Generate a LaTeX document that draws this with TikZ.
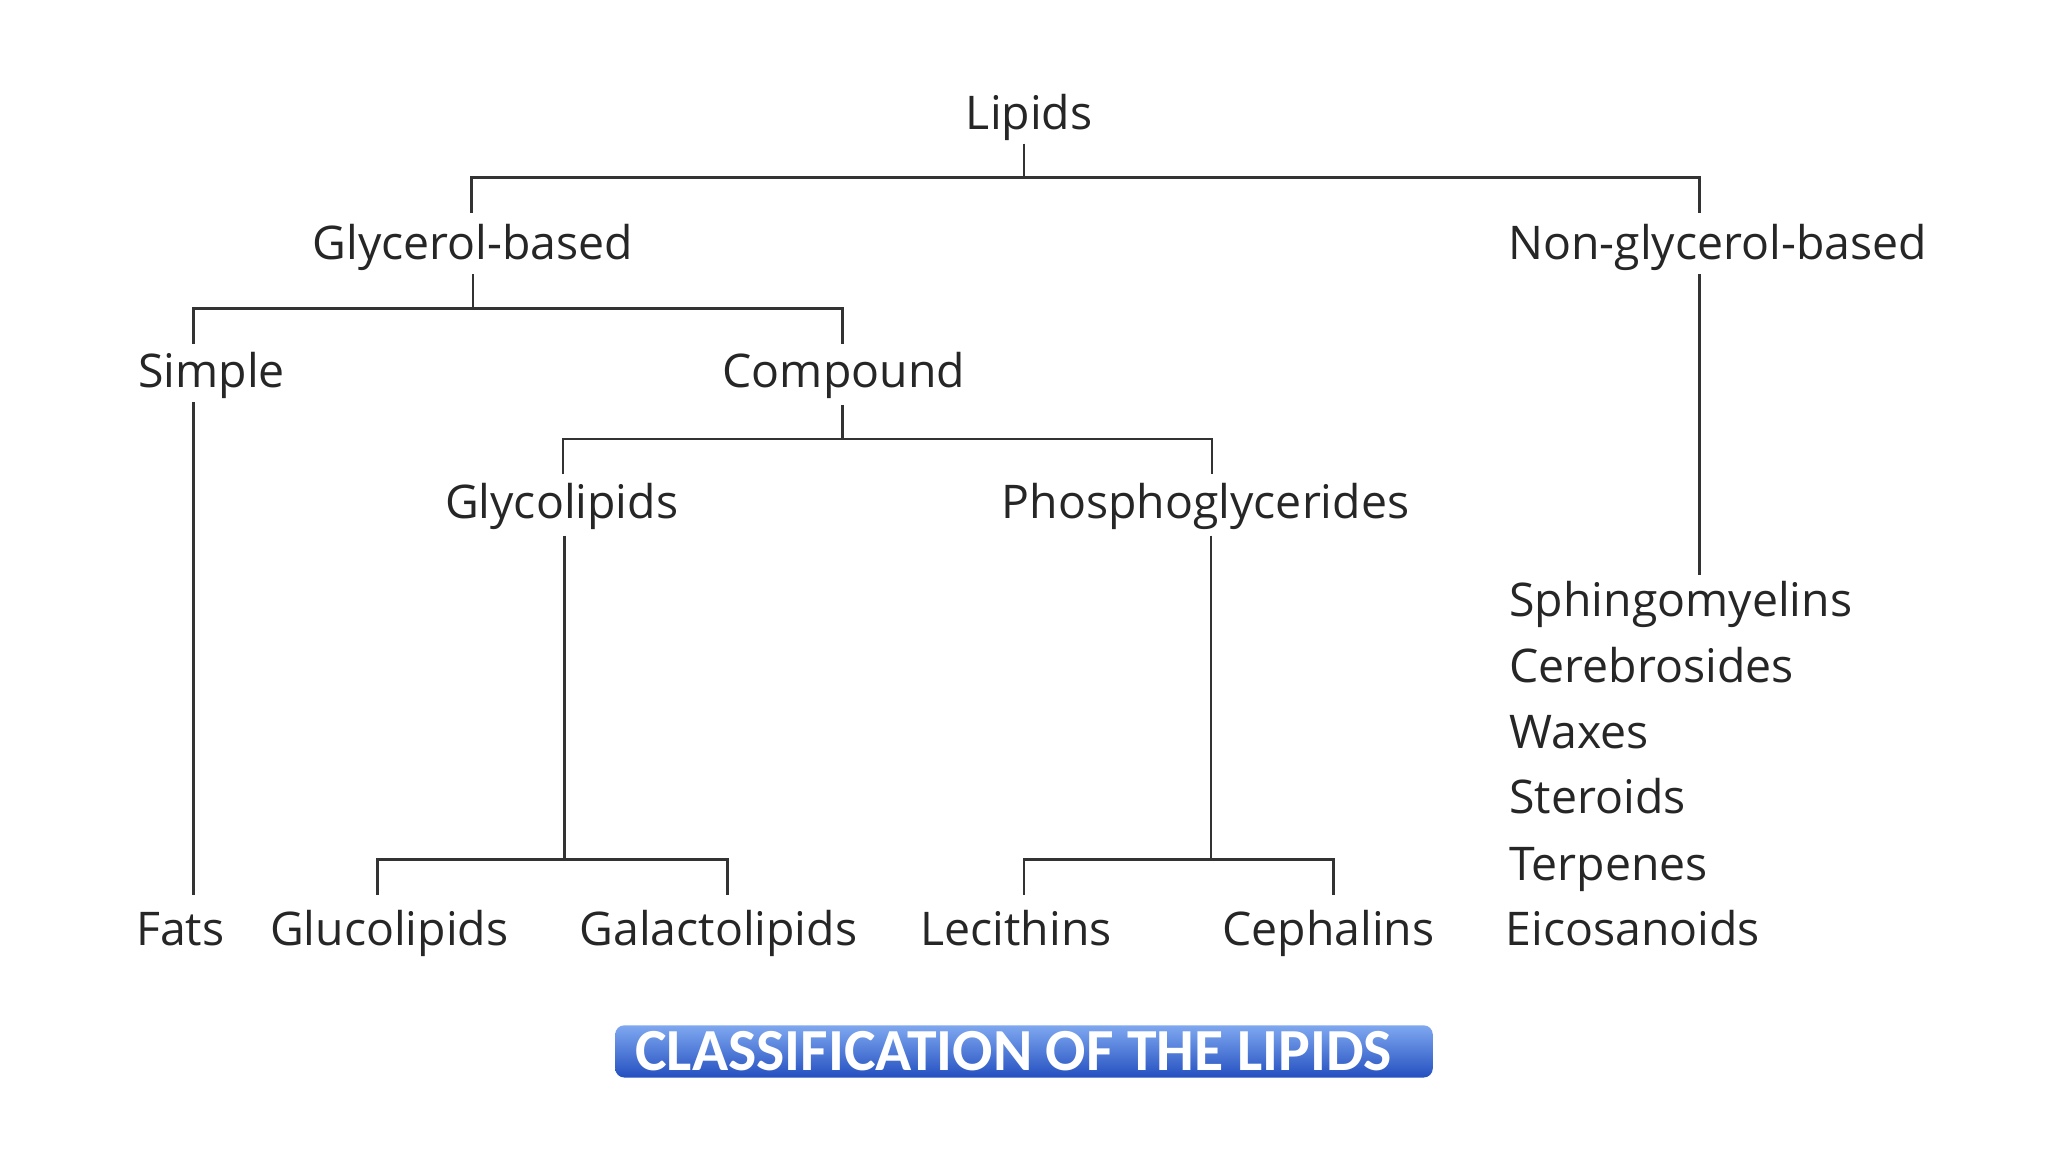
\documentclass[tikz,border=0pt]{standalone}
\usepackage{fontspec}
\setmainfont{Open Sans}
\newfontfamily\titlefont{Carlito}
\definecolor{tbtop}{HTML}{7FA8F0}
\definecolor{tbmid}{HTML}{3C6FDD}
\definecolor{tbbot}{HTML}{2450C0}
\begin{document}
\begin{tikzpicture}[x=0.01cm,y=-0.01cm,
  lbl/.style={font=\fontsize{10.1}{12}\selectfont, text=black!85, inner sep=0, text height=1.6ex, text depth=0.45ex},
  lst/.style={lbl, anchor=west},
  ln/.style={draw=black!80, line width=0.55pt}]
\useasboundingbox[fill=white] (0,0) rectangle (1568,882);
\node[lbl] (lipids) at (788,88) {Lipids};
\node[lbl] (glyc) at (362,188) {Glycerol-based};
\node[lbl] (nong) at (1315,188) {Non-glycerol-based};
\node[lbl] (simple) at (162,286) {Simple};
\node[lbl] (comp) at (646,286) {Compound};
\node[lbl] (glyco) at (430,386) {Glycolipids};
\node[lbl] (phos) at (923,386) {Phosphoglycerides};
\node[lbl] (fats) at (138,713) {Fats};
\node[lbl] (gluco) at (298,713) {Glucolipids};
\node[lbl] (galac) at (550,713) {Galactolipids};
\node[lbl] (leci) at (778,713) {Lecithins};
\node[lbl] (ceph) at (1017,713) {Cephalins};
\node[lst] (sph) at (1155,461) {Sphingomyelins};
\node[lst] (cer) at (1155,512) {Cerebrosides};
\node[lst] (wax) at (1155,562) {Waxes};
\node[lst] (ste) at (1155,612) {Steroids};
\node[lst] (ter) at (1155,663) {Terpenes};
\node[lst] (eic) at (1152,713) {Eicosanoids};
\coordinate (j1) at (784,136);
\coordinate (j2) at (362,236);
\coordinate (j3) at (645,336);
\coordinate (j4) at (432,658);
\coordinate (j5) at (927,658);
\draw[ln] (784,110) -- (j1);
\draw[ln] (361,163) -- (361,136) -- (1301,136) -- (1301,163);
\draw[ln] (362,210) -- (j2);
\draw[ln] (148,263) -- (148,236) -- (645,236) -- (645,263);
\draw[ln] (148,308) -- (148,685);
\draw[ln] (645,310) -- (j3);
\draw[ln] (431,363) -- (431,336) -- (928,336) -- (928,363);
\draw[ln] (432,410) -- (j4);
\draw[ln] (289,685) -- (289,658) -- (557,658) -- (557,685);
\draw[ln] (927,410) -- (j5);
\draw[ln] (784,685) -- (784,658) -- (1021,658) -- (1021,685);
\draw[ln] (1301,210) -- (1301,440);
\shade[top color=tbtop, middle color=tbmid, bottom color=tbbot, rounded corners=2pt] (471,785) rectangle (1097,825);
\node[font=\titlefont\bfseries\fontsize{13}{15}\selectfont, text=white, inner sep=0] (title) at (776,805) {CLASSIFICATION OF THE LIPIDS};
\end{tikzpicture}
\end{document}
